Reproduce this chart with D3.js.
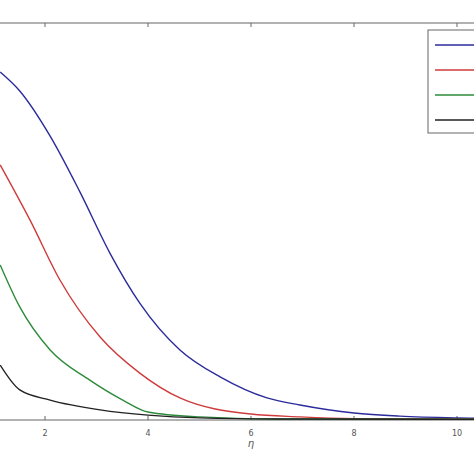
<!DOCTYPE html>
<html>
<head>
<meta charset="utf-8">
<script src="https://cdn.jsdelivr.net/npm/d3@7"></script>
<style>
  body { margin: 0; background: #fff; }
  svg { display: block; font-family: "DejaVu Sans", sans-serif; }
</style>
</head>
<body>
<svg id="chart" width="474" height="474"></svg>
<script>
const xTicks = [2, 4, 6, 8, 10]
const etaBlue = [1.13, 1.51, 2.10, 2.68, 3.26, 3.84, 4.62, 5.40, 6.31, 6.95, 8.0, 8.89, 10.0, 10.4]
const blue = [0.994, 0.94, 0.811, 0.651, 0.477, 0.334, 0.20, 0.123, 0.063, 0.043, 0.02, 0.011, 0.006, 0.005]
const etaRed = [1.13, 1.71, 2.29, 3.07, 3.84, 4.62, 6.0, 6.95, 8.0, 10.4]
const red = [0.729, 0.571, 0.40, 0.237, 0.134, 0.063, 0.017, 0.009, 0.004, 0.002]
const etaGreen = [1.13, 1.51, 2.10, 2.87, 3.51, 4.0, 5.01, 6.5, 10.4]
const green = [0.443, 0.323, 0.20, 0.114, 0.057, 0.023, 0.009, 0.003, 0.002]
const etaBlack = [1.13, 1.51, 2.10, 3.07, 4.0, 5.01, 6.5, 10.4]
const black = [0.157, 0.086, 0.057, 0.029, 0.014, 0.006, 0.003, 0.002]

const series = [
  { eta: etaBlue, vals: blue, color: '#2b2b9c' },
  { eta: etaRed, vals: red, color: '#cf3b3b' },
  { eta: etaGreen, vals: green, color: '#2e8b3a' },
  { eta: etaBlack, vals: black, color: '#222' }
]

const svg = d3.select('#chart')
const x = d3.scaleLinear().domain([0, 10]).range([-58, 457])
const y = d3.scaleLinear().domain([0, 1]).range([420, 70])
const frameTop = 23, frameBottom = 420
const axisColor = '#666'

// frame lines
svg.append('line').attr('x1', 0).attr('x2', 474).attr('y1', frameTop).attr('y2', frameTop)
  .attr('stroke', axisColor).attr('stroke-width', 1.2)
svg.append('line').attr('x1', 0).attr('x2', 474).attr('y1', frameBottom).attr('y2', frameBottom)
  .attr('stroke', axisColor).attr('stroke-width', 1.2)

xTicks.forEach(t => {
  svg.append('line').attr('x1', x(t)).attr('x2', x(t)).attr('y1', frameBottom).attr('y2', frameBottom - 4)
    .attr('stroke', axisColor)
  svg.append('line').attr('x1', x(t)).attr('x2', x(t)).attr('y1', frameTop).attr('y2', frameTop + 4)
    .attr('stroke', axisColor)
  svg.append('text').attr('x', x(t)).attr('y', 436).attr('text-anchor', 'middle')
    .attr('font-size', 8).attr('fill', '#555').text(t)
})
svg.append('text').attr('x', x(6)).attr('y', 447).attr('text-anchor', 'middle')
  .attr('font-size', 10).attr('font-style', 'italic').attr('fill', '#555').text('η')

const line = d3.line().curve(d3.curveMonotoneX)
series.forEach(s => {
  svg.append('path')
    .attr('d', line(s.eta.map((e, i) => [x(e), y(s.vals[i])])))
    .attr('fill', 'none').attr('stroke', s.color).attr('stroke-width', 1.4)
})

// legend
const lg = svg.append('g')
lg.append('rect').attr('x', 428).attr('y', 30).attr('width', 60).attr('height', 103)
  .attr('fill', '#fff').attr('stroke', axisColor).attr('stroke-width', 1)
const legendY = [45, 70, 95, 120]
series.forEach((s, i) => {
  lg.append('line').attr('x1', 435).attr('x2', 474).attr('y1', legendY[i]).attr('y2', legendY[i])
    .attr('stroke', s.color).attr('stroke-width', 1.4)
})
</script>
</body>
</html>
